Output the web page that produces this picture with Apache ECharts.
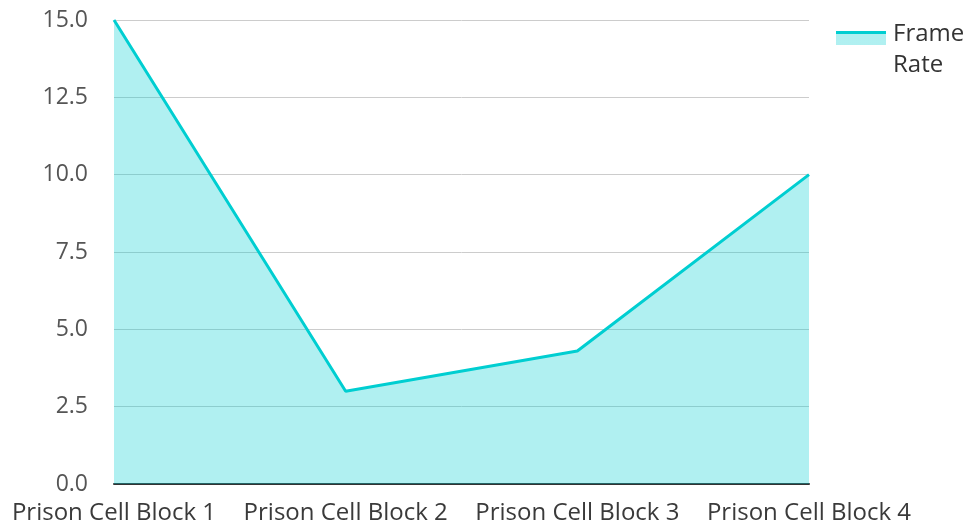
<!DOCTYPE html>
<html>
<head>
<meta charset="utf-8">
<script src="https://cdn.jsdelivr.net/npm/echarts@6/dist/echarts.min.js"></script>
<style>
  html, body { margin: 0; padding: 0; background: #fff; }
  #main { width: 969px; height: 524px; }
</style>
</head>
<body>
<div id="main"></div>
<script>
var categories = ['Prison Cell Block 1', 'Prison Cell Block 2', 'Prison Cell Block 3', 'Prison Cell Block 4'];
var frameRate = [15, 3, 4.3, 10];

var chart = echarts.init(document.getElementById('main'));

// legend swatch: line on top, shaded area below
var swatch = new echarts.graphic.LinearGradient(0, 0, 0, 1, [
    { offset: 0, color: '#00CED1' },
    { offset: 0.22, color: '#00CED1' },
    { offset: 0.22, color: 'rgba(0,206,209,0.31)' },
    { offset: 1, color: 'rgba(0,206,209,0.31)' }
]);

chart.setOption({
    textStyle: { fontFamily: 'Open Sans' },
    grid: { left: 114, right: 160, top: 20, bottom: 40, outerBoundsMode: 'none' },
    legend: {
        left: 836,
        top: -5,
        padding: 0,
        icon: 'rect',
        itemWidth: 50,
        itemHeight: 14,
        itemStyle: { color: swatch },
        // wrap the name, first line sits level with the swatch
        formatter: function (name) {
            return '{s|}\n' + name.split(' ').map(function (w) { return '{t|' + w + '}'; }).join('\n');
        },
        textStyle: {
            fontSize: 24,
            color: '#333',
            rich: {
                s: { lineHeight: 23, fontSize: 24 },
                t: { lineHeight: 31, fontSize: 24, color: '#333', padding: [0, 0, 0, 2] }
            }
        },
        data: ['Frame Rate']
    },
    xAxis: {
        type: 'category',
        data: categories,
        boundaryGap: false,
        axisLine: { lineStyle: { color: '#333', width: 2 } },
        axisTick: { show: false },
        axisLabel: { fontSize: 24, color: '#3a3a3a', margin: 17, interval: 0 }
    },
    yAxis: {
        type: 'value',
        min: 0,
        max: 15,
        interval: 2.5,
        axisLabel: {
            fontSize: 23,
            color: '#555',
            margin: 26,
            formatter: function (v) { return v.toFixed(1); }
        },
        splitLine: { lineStyle: { color: '#ccc' } }
    },
    series: [{
        name: 'Frame Rate',
        type: 'line',
        data: frameRate,
        showSymbol: false,
        symbol: 'none',
        lineStyle: { color: '#00CED1', width: 3 },
        itemStyle: { color: '#00CED1' },
        areaStyle: { color: '#00CED1', opacity: 0.31 }
    }]
});
</script>
</body>
</html>
